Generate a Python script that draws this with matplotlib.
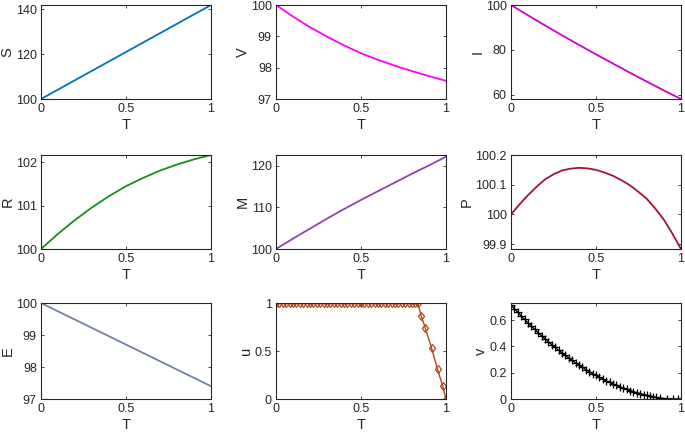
import matplotlib
matplotlib.use("Agg")
import matplotlib.pyplot as plt

plt.rcParams['font.family'] = ['Liberation Sans', 'DejaVu Sans']

# time grid for the smooth state curves
T11 = [0.0, 0.1, 0.2, 0.3, 0.4, 0.5, 0.6, 0.7, 0.8, 0.9, 1.0]
T21 = [0.0, 0.05, 0.1, 0.15, 0.2, 0.25, 0.3, 0.35, 0.4, 0.45, 0.5,
       0.55, 0.6, 0.65, 0.7, 0.75, 0.8, 0.85, 0.9, 0.95, 1.0]

S = [100.0, 104.2, 108.4, 112.6, 116.8, 121.0, 125.2, 129.4, 133.6, 137.8, 142.0]
V = [100.0, 99.63, 99.29, 98.99, 98.71, 98.46, 98.25, 98.06, 97.89, 97.73, 97.58]
I = [100.0, 95.4, 90.9, 86.5, 82.2, 78.0, 73.9, 69.8, 65.8, 61.9, 58.1]
R = [100.0, 100.35, 100.67, 100.96, 101.22, 101.45, 101.64, 101.81, 101.95, 102.07, 102.17]
M = [100.0, 102.5, 104.9, 107.3, 109.6, 111.8, 113.9, 116.0, 118.1, 120.1, 122.2]
P = [100.0, 100.034, 100.065, 100.093, 100.118, 100.135, 100.148, 100.154,
     100.157, 100.155, 100.150, 100.141, 100.130, 100.115, 100.098, 100.076,
     100.052, 100.019, 99.982, 99.935, 99.884]
E = [100.0, 99.74, 99.48, 99.22, 98.96, 98.70, 98.44, 98.18, 97.92, 97.66, 97.40]

# time grid for the controls (markers)
Tc = [0.0, 0.02, 0.04, 0.06, 0.08, 0.10, 0.12, 0.14, 0.16, 0.18,
      0.20, 0.22, 0.24, 0.26, 0.28, 0.30, 0.32, 0.34, 0.36, 0.38,
      0.40, 0.42, 0.44, 0.46, 0.48, 0.50, 0.52, 0.54, 0.56, 0.58,
      0.60, 0.62, 0.64, 0.66, 0.68, 0.70, 0.72, 0.74, 0.76, 0.78,
      0.80, 0.82, 0.834, 0.855, 0.878, 0.915, 0.95, 0.98, 1.0]

u = [1.0] * 43 + [0.86, 0.74, 0.53, 0.31, 0.14, 0.0]

v = [0.715, 0.687, 0.659, 0.632, 0.605, 0.579, 0.554, 0.529, 0.505, 0.481,
     0.458, 0.435, 0.413, 0.392, 0.371, 0.350, 0.331, 0.311, 0.293, 0.275,
     0.257, 0.241, 0.224, 0.208, 0.193, 0.179, 0.165, 0.151, 0.138, 0.126,
     0.114, 0.103, 0.093, 0.083, 0.073, 0.064, 0.056, 0.048, 0.041, 0.034,
     0.028, 0.022, 0.018, 0.012, 0.007, 0.003, 0.001, 0.0, 0.0]

panels = [
    ("S", T11, S, "#0072BD", None, (100, 142), [100, 120, 140], ["100", "120", "140"]),
    ("V", T11, V, "#FF00FF", None, (97, 100), [97, 98, 99, 100], ["97", "98", "99", "100"]),
    ("I", T11, I, "#CC00CC", None, (58.1, 100), [60, 80, 100], ["60", "80", "100"]),
    ("R", T11, R, "#1A8C1A", None, (100, 102.17), [100, 101, 102], ["100", "101", "102"]),
    ("M", T11, M, "#8E44A8", None, (100, 122.6), [100, 110, 120], ["100", "110", "120"]),
    ("P", T21, P, "#A2142F", None, (99.884, 100.2), [99.9, 100, 100.1, 100.2], ["99.9", "100", "100.1", "100.2"]),
    ("E", T11, E, "#7080A6", None, (97, 100), [97, 98, 99, 100], ["97", "98", "99", "100"]),
    ("u", Tc, u, "#B4461E", "d", (0, 1), [0, 0.5, 1], ["0", "0.5", "1"]),
    ("v", Tc, v, "#000000", "+", (0, 0.73), [0, 0.2, 0.4, 0.6], ["0", "0.2", "0.4", "0.6"]),
]

W, H = 685.0, 434.0
lefts = [41, 276, 511]
tops = [5, 155, 303]
heights = [94, 94, 96]
width = 170

fig = plt.figure(figsize=(6.85, 4.34), dpi=100)
fig.patch.set_facecolor("white")

edge = "#262626"
for k, (name, t, y, color, mk, ylim, yticks, ylabels) in enumerate(panels):
    row, col = divmod(k, 3)
    ax = fig.add_axes([lefts[col] / W, 1 - (tops[row] + heights[row]) / H,
                       width / W, heights[row] / H])
    if mk is None:
        ax.plot(t, y, color=color, lw=1.3)
    elif mk == "d":
        ax.plot(t, y, color=color, lw=1.0, marker="d", ms=4.5,
                mfc="none", mew=0.9)
    else:
        ax.plot(t, y, color=color, lw=1.0, marker="+", ms=5.5, mew=0.9)
    ax.set_xlim(0, 1)
    ax.set_ylim(*ylim)
    ax.set_xticks([0, 0.5, 1])
    ax.set_xticklabels(["0", "0.5", "1"])
    ax.set_yticks(yticks)
    ax.set_yticklabels(ylabels)
    ax.tick_params(direction="in", length=2.5, width=0.6, colors=edge,
                   labelsize=9, top=True, right=True, pad=3)
    for sp in ax.spines.values():
        sp.set_color(edge)
        sp.set_linewidth(0.8)
    ax.set_xlabel("T", fontsize=10.5, color=edge, labelpad=2)
    ax.set_ylabel(name, fontsize=10.5, color=edge, labelpad=1)

plt.savefig("out.png", dpi=100)
